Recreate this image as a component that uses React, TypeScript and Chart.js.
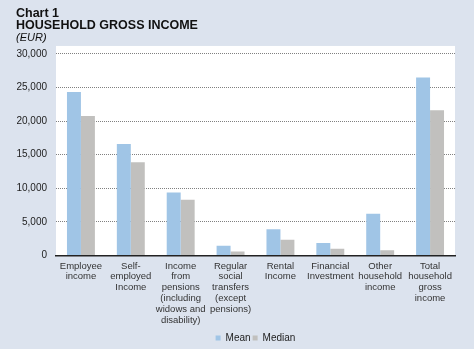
import React, { useEffect, useRef } from "react";
import { Chart, registerables } from "chart.js";

Chart.register(...registerables);

const categories: string[][] = [
  ["Employee", "income"],
  ["Self-", "employed", "Income"],
  ["Income", "from", "pensions", "(including", "widows and", "disability)"],
  ["Regular", "social", "transfers", "(except", "pensions)"],
  ["Rental", "Income"],
  ["Financial", "Investment"],
  ["Other", "household", "income"],
  ["Total", "household", "gross", "income"],
];
const meanValues = [24350, 16580, 9370, 1460, 3900, 1850, 6200, 26500];
const medianValues = [20780, 13860, 8290, 590, 2340, 980, 780, 21600];
const yTicks = [0, 5000, 10000, 15000, 20000, 25000, 30000];

const FONT = "'Liberation Sans', Arial, Helvetica, sans-serif";

const plotBg = {
  id: "plotBg",
  beforeDraw(chart: any) {
    const { ctx, chartArea } = chart;
    ctx.save();
    ctx.fillStyle = "#ffffff";
    ctx.fillRect(chartArea.left, chartArea.top - 8, chartArea.right - chartArea.left, chartArea.bottom - chartArea.top + 8);
    ctx.restore();
  },
};

export default function App() {
  const ref = useRef<HTMLCanvasElement | null>(null);
  useEffect(() => {
    if (!ref.current) return;
    const chart = new Chart(ref.current, {
      type: "bar",
      data: {
        labels: categories,
        datasets: [
          { label: "Mean", data: meanValues, backgroundColor: "#a0c5e6", borderWidth: 0 },
          { label: "Median", data: medianValues, backgroundColor: "#c1c0be", borderWidth: 0 },
        ],
      },
      plugins: [plotBg],
      options: {
        animation: false,
        responsive: true,
        maintainAspectRatio: false,
        layout: { padding: { left: 16, right: 19, top: 0, bottom: -4 } },
        datasets: { bar: { categoryPercentage: 0.56, barPercentage: 1 } },
        plugins: {
          title: {
            display: true,
            text: ["Chart 1", "HOUSEHOLD GROSS INCOME"],
            align: "start",
            color: "#111",
            font: { family: FONT, size: 12.5, weight: "bold", lineHeight: 0.95 },
            padding: { top: 8, bottom: 0 },
          },
          subtitle: {
            display: true,
            text: "(EUR)",
            align: "start",
            color: "#111",
            font: { family: FONT, size: 11, style: "italic", lineHeight: 1.2 },
            padding: { top: 0, bottom: 9 },
          },
          legend: {
            display: true,
            position: "bottom",
            fullSize: false,
            labels: {
              boxWidth: 5,
              boxHeight: 5,
              padding: 2,
              color: "#222",
              font: { family: FONT, size: 10 },
            },
          },
          tooltip: { enabled: false },
        },
        scales: {
          x: {
            grid: { display: false, drawTicks: false },
            border: { display: true, color: "#222", width: 1.5 },
            ticks: {
              color: "#333",
              maxRotation: 0,
              autoSkip: false,
              padding: 5,
              font: { family: FONT, size: 9.5, lineHeight: 1.15 },
            },
          },
          y: {
            min: 0,
            max: 30000,
            afterBuildTicks: (axis: any) => {
              axis.ticks = yTicks.map((v) => ({ value: v }));
            },
            afterFit: (axis: any) => {
              axis.width = 40;
            },
            grid: { color: "#808080", drawTicks: false, lineWidth: 1 },
            border: { display: false, dash: [1, 1] },
            ticks: {
              color: "#222",
              padding: 9,
              font: { family: FONT, size: 10 },
              callback: (v: any) => Number(v).toLocaleString("en-US"),
            },
          },
        },
      },
    });
    return () => chart.destroy();
  }, []);
  return (
    <div style={{ position: "absolute", left: 0, top: 0, width: 474, height: 349, background: "#dce3ee" }}>
      <canvas ref={ref} />
    </div>
  );
}
